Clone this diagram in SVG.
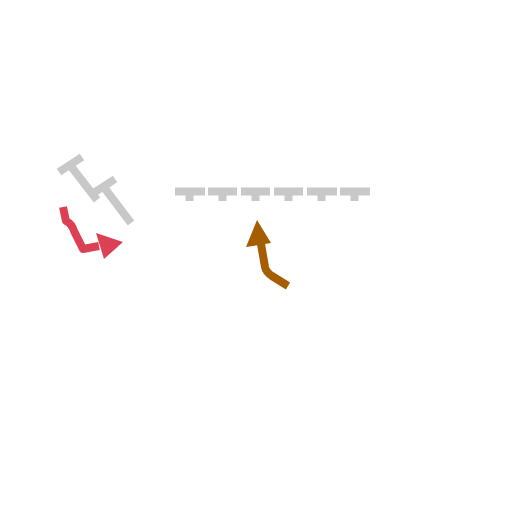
<svg xmlns="http://www.w3.org/2000/svg" width="512" height="512" viewBox="0 0 512 512">
<style>
.g{stroke:#c8c8c8;stroke-width:8;fill:none;stroke-linecap:butt}
.red{stroke:#dc4055;stroke-width:8;fill:none;stroke-linejoin:round}
.org{stroke:#a65c00;stroke-width:8;fill:none;stroke-linejoin:round}
</style>
<rect width="512" height="512" fill="#fff"/>
<g id="tl-t1"><path class="g" d="M59,172 L82,157 M70,165 L97,200"/></g>
<g id="tl-t2"><path class="g" d="M92,194 L115,179 M103,186 L131,223"/></g>
<g id="row">
<g id="t1"><path class="g" d="M175,191.5 H205 M189.5,191.5 V201"/></g>
<g id="t2"><path class="g" d="M208,191.5 H237 M222.5,191.5 V201"/></g>
<g id="t3"><path class="g" d="M241,191.5 H270 M255.5,191.5 V201"/></g>
<g id="t4"><path class="g" d="M274,191.5 H303 M288.5,191.5 V201"/></g>
<g id="t5"><path class="g" d="M307,191.5 H337 M321.5,191.5 V201"/></g>
<g id="t6"><path class="g" d="M340,191.5 H370 M354.5,191.5 V201"/></g>
</g>
<g id="connectors">
<path class="red" d="M63,207 L66,221 Q72,224 74,231 L83,249 L99,246"/>
<polygon fill="#dc4055" points="123,242 96,233 104,259"/>
<path class="org" d="M288,286 L272,276 Q266,272 265,267 L261,244"/>
<polygon fill="#a65c00" points="257,220 246,247 271,243"/>
</g>
</svg>
